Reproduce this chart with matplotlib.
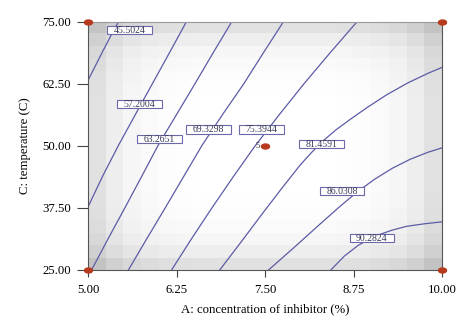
import numpy as np
import matplotlib.pyplot as plt
from matplotlib.patches import Rectangle
from matplotlib.path import Path

plt.rcParams['font.family'] = 'Liberation Serif'

# contour levels and the lines (A = %, C = temperature)
levels = ['45.5024', '57.2004', '63.2651', '69.3298', '75.3944', '81.4591', '86.0308', '90.2824']

line_a = [
    [5.00, 5.10, 5.21, 5.32, 5.43],
    [5.00, 5.21, 5.43, 5.68, 5.92, 6.16, 6.39],
    [5.05, 5.28, 5.52, 5.76, 5.99, 6.25, 6.51, 6.77, 7.03],
    [5.57, 5.83, 6.09, 6.35, 6.61, 6.90, 7.20, 7.48, 7.76],
    [6.18, 6.46, 6.75, 7.05, 7.36, 7.70, 8.05, 8.42, 8.80],
    [6.86, 7.16, 7.46, 7.74, 8.00, 8.16, 8.32, 8.50, 8.70, 8.94, 9.22, 9.52, 9.80, 10.00],
    [7.55, 7.90, 8.25, 8.55, 8.80, 9.05, 9.30, 9.55, 9.80, 10.00],
    [8.43, 8.62, 8.82, 9.05, 9.29, 9.50, 9.75, 10.00],
]
line_c = [
    [63.2, 66.0, 69.1, 72.1, 75.0],
    [37.7, 44.0, 50.1, 56.6, 62.8, 69.0, 75.0],
    [25.0, 31.2, 37.5, 43.9, 50.1, 56.3, 62.5, 68.8, 75.0],
    [25.0, 31.3, 37.5, 43.8, 50.1, 56.3, 62.5, 68.8, 75.0],
    [25.0, 31.25, 37.5, 43.75, 50.0, 56.25, 62.5, 68.75, 75.0],
    [25.0, 30.6, 36.3, 41.5, 46.2, 48.7, 51.0, 53.2, 55.3, 57.7, 60.3, 62.7, 64.6, 65.8],
    [25.0, 29.4, 33.9, 37.7, 40.7, 43.3, 45.5, 47.3, 48.7, 49.6],
    [25.0, 27.8, 30.0, 31.8, 33.0, 33.8, 34.3, 34.7],
]

label_a = [5.59, 5.73, 6.01, 6.70, 7.45, 8.30, 8.59, 9.01]
label_c = [73.4, 58.4, 51.4, 53.3, 53.3, 50.3, 40.9, 31.5]

# design points (corners + centre point with 5 replicates)
design_a = [5.0, 5.0, 10.0, 10.0, 7.5]
design_c = [25.0, 75.0, 25.0, 75.0, 50.0]

# grey shading towards the edges, one value per cell (darkness, 0 = white)
shade_x = [30, 17, 9, 5, 2, 1, 0, 0, 0, 0, 0, 0, 0, 0, 1, 2, 5, 9, 17, 30]
shade_y = [30, 17, 9, 5, 2, 1, 0, 0, 0, 0, 0, 0, 0, 0, 1, 2, 5, 9, 17, 30]

xticks = [5.00, 6.25, 7.50, 8.75, 10.00]
yticks = [25.00, 37.50, 50.00, 62.50, 75.00]

fig = plt.figure(figsize=(4.74, 3.31), dpi=100)
ax = fig.add_axes([0.1857, 0.1843, 0.7468, 0.7501])

grey = 255 - (np.array(shade_y)[:, None] + np.array(shade_x)[None, :])
ax.imshow(grey, cmap='gray', vmin=0, vmax=255, extent=[5, 10, 25, 75],
          origin='lower', aspect='auto', interpolation='nearest', zorder=0)

for a, c in zip(line_a, line_c):
    ax.plot(a, c, color='#5c5ca6', lw=0.9, zorder=2)

# label boxes: about 45 x 8 px
bw, bh = 0.63, 1.65
for lab, a, c in zip(levels, label_a, label_c):
    ax.add_patch(Rectangle((a - bw / 2, c - bh / 2), bw, bh, fc='white', ec='#6a6aaa', lw=0.8, zorder=3))
    ax.text(a, c - 0.1, lab, fontsize=7, color='#3a3a5a', ha='center', va='center', zorder=4)

t = np.linspace(0, 2 * np.pi, 40)
ellipse = Path(np.column_stack([np.cos(t), 0.62 * np.sin(t)]))
ax.plot(design_a, design_c, ls='none', marker=ellipse, color='#b83a1e', ms=5.8, clip_on=False, zorder=5)
ax.text(7.5 - 0.07, 50.0, '5', fontsize=6, color='#333333', ha='right', va='center', zorder=5)

ax.set_xlim(5, 10)
ax.set_ylim(25, 75)
ax.set_xticks(xticks)
ax.set_yticks(yticks)
ax.set_xticklabels(['%.2f' % v for v in xticks])
ax.set_yticklabels(['%.2f' % v for v in yticks])
ax.tick_params(axis='x', length=5, pad=5, labelsize=9.2, color='#444444')
ax.tick_params(axis='y', length=8, pad=4, labelsize=9.2, color='#444444')

for s in ['left', 'right', 'bottom']:
    ax.spines[s].set_color('#555555')
ax.spines['top'].set_color('#999999')

ax.set_xlabel('A: concentration of inhibitor (%)', fontsize=9.2, labelpad=5)
ax.set_ylabel('C: temperature (C)', fontsize=9.2, labelpad=8)

plt.savefig('out.png', dpi=100)
